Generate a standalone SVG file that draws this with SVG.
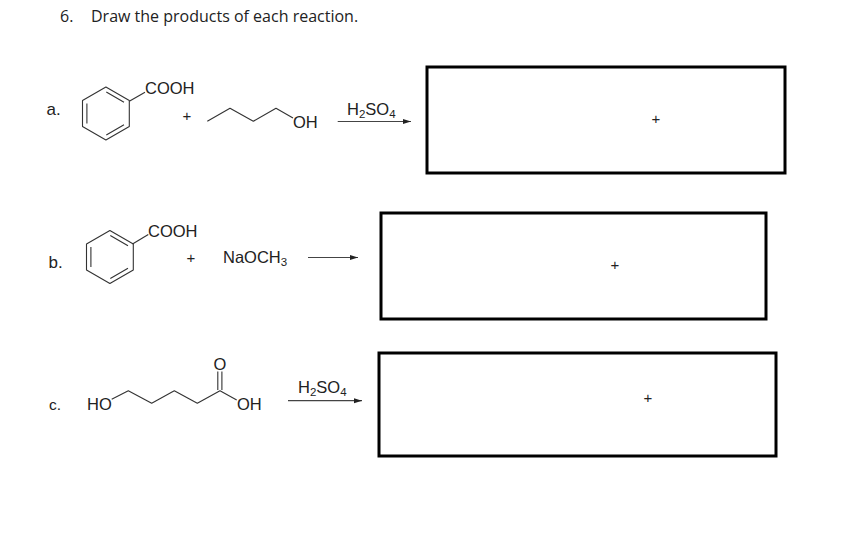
<svg xmlns="http://www.w3.org/2000/svg" width="843" height="539" viewBox="0 0 843 539">
<style>
text{font-family:"Liberation Sans",Arial,sans-serif;fill:#222}
.t{font-size:16.5px}
.l{font-size:17px}
.s{font-size:11.5px}
.p{font-size:15px}
.h{font-family:"Open Sans","Noto Sans",sans-serif;font-size:16px;fill:#222}
.b{fill:none;stroke:#333;stroke-width:1.1;stroke-linejoin:round}
.box{fill:#fff;stroke:#000;stroke-width:3}
.ar{fill:none;stroke:#444;stroke-width:1.2;marker-end:url(#m)}
</style>
<defs>
<marker id="m" markerUnits="userSpaceOnUse" markerWidth="9" markerHeight="6" refX="8" refY="2.5" orient="auto"><path d="M0 0L8 2.5L0 5Z" fill="#222"/></marker>
<g id="benz">
<path class="b" d="M23.4 0L46.8 13.5V39.5L23.4 53L0 39.5V13.5Z"/>
<path class="b" d="M4.4 16.5V36.5M23.8 5L41.5 15.2M41.5 37.8L23.8 48"/>
</g>
</defs>
<g id="title"><text class="h" x="60" y="21.5">6.</text><text class="h" x="91" y="21.5">Draw the products of each reaction.</text></g>
<g id="boxes">
<rect id="box-a" class="box" x="427" y="67" width="358" height="106"/>
<rect id="box-b" class="box" x="381" y="213" width="385" height="106"/>
<rect id="box-c" class="box" x="379" y="353" width="397" height="103"/>
</g>
<g id="reaction-a">
<text class="l" x="46.5" y="115">a.</text>
<use href="#benz" x="82.5" y="87"/>
<path class="b" d="M129.3 101.3L145 92.3"/>
<text class="t" x="145" y="93.5">COOH</text>
<text class="p" x="182.5" y="121">+</text>
<path class="b" d="M207.3 121.3L230 108.3L253.3 121.3L276 108.3L293 118"/>
<text class="t" x="293" y="128">OH</text>
<text class="t" x="347" y="114.5">H<tspan class="s" dy="3">2</tspan><tspan dy="-3">SO</tspan><tspan class="s" dy="3">4</tspan></text>
<text class="p" x="651.5" y="124">+</text>
</g>
<g id="reaction-b">
<text class="l" x="48.5" y="267.5">b.</text>
<use href="#benz" x="86.5" y="230.5"/>
<path class="b" d="M132.5 244L148.3 234.5"/>
<text class="t" x="148" y="237">COOH</text>
<text class="p" x="186.5" y="263">+</text>
<text class="t" x="223" y="263">NaOCH<tspan class="s" dy="3">3</tspan></text>
<text class="p" x="610.5" y="270">+</text>
</g>
<g id="reaction-c">
<text class="l" x="49" y="410" style="font-size:15.5px">c.</text>
<text class="t" x="87" y="410">HO</text>
<path class="b" d="M111.7 399.3L128.3 390.7L151.7 403.3L174.3 390.7L197.3 403.3L220 390.7L236.7 400"/>
<path class="b" d="M217.8 390V371.5M221.9 390V371.5"/>
<text class="t" x="213.6" y="370">O</text>
<text class="t" x="237" y="410">OH</text>
<text class="t" x="298" y="392.5">H<tspan class="s" dy="3">2</tspan><tspan dy="-3">SO</tspan><tspan class="s" dy="3">4</tspan></text>
<text class="p" x="643.5" y="403">+</text>
</g>
<g id="connectors">
<path class="ar" d="M337.7 121.5H411"/>
<path class="ar" d="M308 257.5H358"/>
<path class="ar" d="M288 400.7H362"/>
</g>
</svg>
